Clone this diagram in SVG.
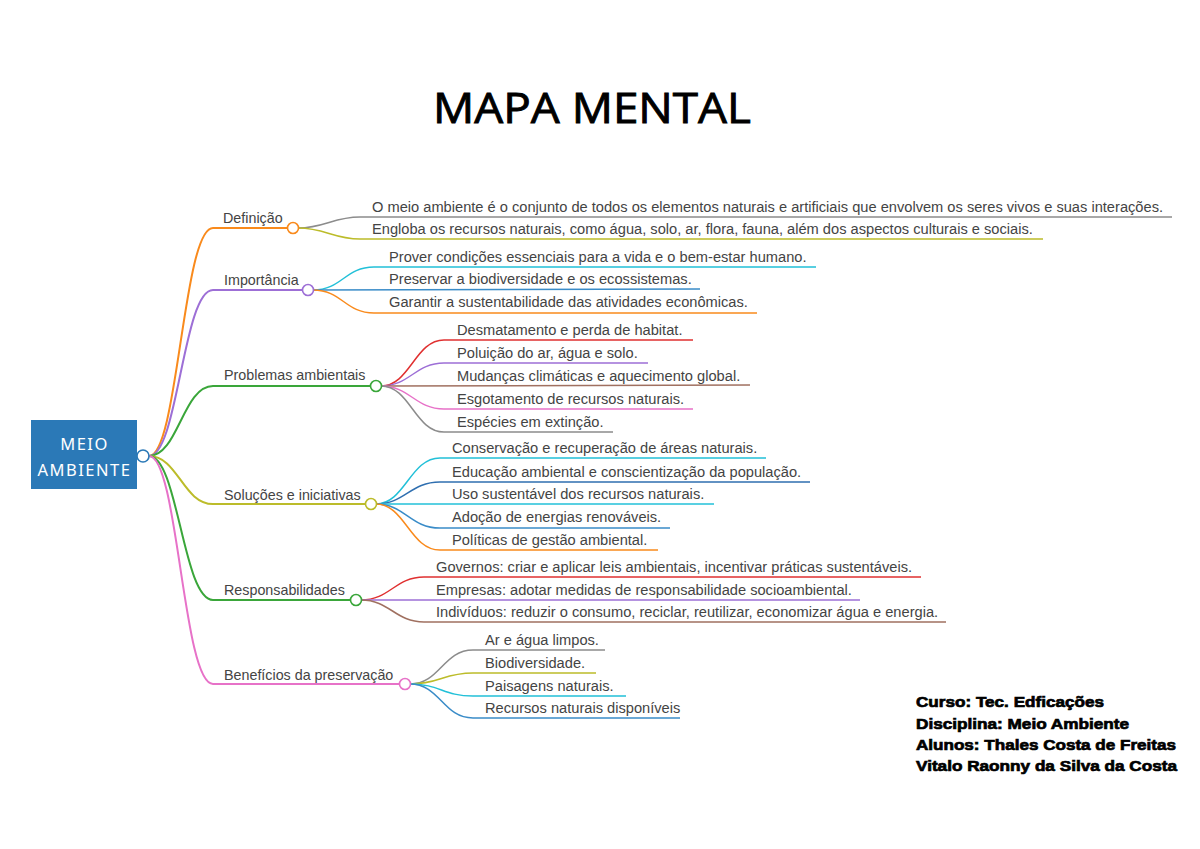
<svg xmlns="http://www.w3.org/2000/svg" width="1200" height="849" viewBox="0 0 1200 849">
<style>
.t{font-family:"Liberation Sans",Arial,sans-serif;font-size:14.65px;fill:#444}
.b{font-family:"Liberation Sans",Arial,sans-serif;font-size:14.3px;fill:#444}
.main{fill:none;stroke-width:2}
.sub{fill:none;stroke-width:1.5}
.dot{fill:#fff;stroke-width:1.6}
.info{font-family:"Liberation Sans",Arial,sans-serif;font-size:15px;font-weight:bold;fill:#000;stroke:#000;stroke-width:0.7}
</style>
<rect width="1200" height="849" fill="#fff"/>
<text x="433" y="123" font-family="'Open Sans','Noto Sans',sans-serif" font-size="42" fill="#000" stroke="#000" stroke-width="0.9" textLength="318" lengthAdjust="spacingAndGlyphs">MAPA MENTAL</text>

<g id="connectors">
  <path class="main" stroke="#f98a1c" d="M149,456 C178,456 183,228 213,228 L287,228"/>
  <path class="main" stroke="#9d6fd6" d="M149,456 C178,456 183,290 213,290 L302,290"/>
  <path class="main" stroke="#3aa63a" d="M149,456 C178,456 183,386 213,386 L370,386"/>
  <path class="main" stroke="#bcbc2a" d="M149,456 C178,456 183,504 213,504 L365,504"/>
  <path class="main" stroke="#3aa63a" d="M149,456 C178,456 183,600 213,600 L350,600"/>
  <path class="main" stroke="#e772c8" d="M149,456 C178,456 183,684 213,684 L399,684"/>

  <path class="sub" stroke="#8c8c8c" d="M298,228 C325,228 333,217 360,217 L1172,217"/>
  <path class="sub" stroke="#bcbc2a" d="M298,228 C325,228 333,239 360,239 L1043,239"/>

  <path class="sub" stroke="#22c0d8" d="M313,290 C342,290 345,267 374,267 L816,267"/>
  <path class="sub" stroke="#3a8cc8" d="M313,290 L700,289"/>
  <path class="sub" stroke="#f98a1c" d="M313,290 C342,290 345,313 374,313 L757,313"/>

  <path class="sub" stroke="#e03030" d="M381,386 C410,386 415,340 444,340 L693,340"/>
  <path class="sub" stroke="#9d6fd6" d="M381,386 C410,386 415,363 444,363 L648,363"/>
  <path class="sub" stroke="#a07060" d="M381,386 L750,385"/>
  <path class="sub" stroke="#e772c8" d="M381,386 C410,386 415,409 444,409 L693,409"/>
  <path class="sub" stroke="#8c8c8c" d="M381,386 C410,386 415,432 444,432 L613,432"/>

  <path class="sub" stroke="#22c0d8" d="M376,504 C405,504 410,458 440,458 L766,458"/>
  <path class="sub" stroke="#2f6fb0" d="M376,504 C405,504 410,482 440,482 L810,482"/>
  <path class="sub" stroke="#22c0d8" d="M376,504 L714,504"/>
  <path class="sub" stroke="#3a8cc8" d="M376,504 C405,504 410,528 440,528 L670,528"/>
  <path class="sub" stroke="#f98a1c" d="M376,504 C405,504 410,550 440,550 L658,550"/>

  <path class="sub" stroke="#e03030" d="M361,600 C390,600 395,577 424,577 L921,577"/>
  <path class="sub" stroke="#9d6fd6" d="M361,600 L860,600"/>
  <path class="sub" stroke="#a07060" d="M361,600 C390,600 395,622 424,622 L946,622"/>

  <path class="sub" stroke="#8c8c8c" d="M410,684 C440,684 443,650 473,650 L605,650"/>
  <path class="sub" stroke="#bcbc2a" d="M410,684 C440,684 443,673 473,673 L596,673"/>
  <path class="sub" stroke="#22c0d8" d="M410,684 C440,684 443,696 473,696 L626,696"/>
  <path class="sub" stroke="#3a8cc8" d="M410,684 C440,684 443,718 473,718 L680,718"/>
</g>

<g id="root">
  <rect x="31" y="420" width="106" height="69" fill="#2b79b7"/>
  <text x="84.5" y="450" text-anchor="middle" font-family="'Noto Sans','Open Sans',sans-serif" font-size="16.5" letter-spacing="1.5" fill="#fff">MEIO</text>
  <text x="84.5" y="476" text-anchor="middle" font-family="'Noto Sans','Open Sans',sans-serif" font-size="16.5" letter-spacing="1.5" fill="#fff">AMBIENTE</text>
  <circle class="dot" cx="143" cy="456" r="6" stroke="#2b79b7"/>
</g>

<g id="definicao">
  <text class="b" x="223" y="223">Definição</text>
  <circle class="dot" cx="293" cy="228" r="5.5" stroke="#f98a1c"/>
  <text class="t" x="372" y="212">O meio ambiente é o conjunto de todos os elementos naturais e artificiais que envolvem os seres vivos e suas interações.</text>
  <text class="t" x="372" y="234">Engloba os recursos naturais, como água, solo, ar, flora, fauna, além dos aspectos culturais e sociais.</text>
</g>

<g id="importancia">
  <text class="b" x="224" y="285">Importância</text>
  <circle class="dot" cx="308" cy="290" r="5.5" stroke="#9d6fd6"/>
  <text class="t" x="389" y="262">Prover condições essenciais para a vida e o bem-estar humano.</text>
  <text class="t" x="389" y="284">Preservar a biodiversidade e os ecossistemas.</text>
  <text class="t" x="389" y="307">Garantir a sustentabilidade das atividades econômicas.</text>
</g>

<g id="problemas">
  <text class="b" x="224" y="380">Problemas ambientais</text>
  <circle class="dot" cx="376" cy="386" r="5.5" stroke="#3aa63a"/>
  <text class="t" x="457" y="335">Desmatamento e perda de habitat.</text>
  <text class="t" x="457" y="358">Poluição do ar, água e solo.</text>
  <text class="t" x="457" y="381">Mudanças climáticas e aquecimento global.</text>
  <text class="t" x="457" y="404">Esgotamento de recursos naturais.</text>
  <text class="t" x="457" y="427">Espécies em extinção.</text>
</g>

<g id="solucoes">
  <text class="b" x="224" y="500">Soluções e iniciativas</text>
  <circle class="dot" cx="371" cy="504" r="5.5" stroke="#bcbc2a"/>
  <text class="t" x="452" y="453">Conservação e recuperação de áreas naturais.</text>
  <text class="t" x="452" y="477">Educação ambiental e conscientização da população.</text>
  <text class="t" x="452" y="499">Uso sustentável dos recursos naturais.</text>
  <text class="t" x="452" y="522">Adoção de energias renováveis.</text>
  <text class="t" x="452" y="545">Políticas de gestão ambiental.</text>
</g>

<g id="responsabilidades">
  <text class="b" x="224" y="595">Responsabilidades</text>
  <circle class="dot" cx="356" cy="600" r="5.5" stroke="#3aa63a"/>
  <text class="t" x="436" y="572">Governos: criar e aplicar leis ambientais, incentivar práticas sustentáveis.</text>
  <text class="t" x="436" y="595">Empresas: adotar medidas de responsabilidade socioambiental.</text>
  <text class="t" x="436" y="617">Indivíduos: reduzir o consumo, reciclar, reutilizar, economizar água e energia.</text>
</g>

<g id="beneficios">
  <text class="b" x="224" y="680">Benefícios da preservação</text>
  <circle class="dot" cx="405" cy="684" r="5.5" stroke="#e772c8"/>
  <text class="t" x="485" y="645">Ar e água limpos.</text>
  <text class="t" x="485" y="668">Biodiversidade.</text>
  <text class="t" x="485" y="691">Paisagens naturais.</text>
  <text class="t" x="485" y="713">Recursos naturais disponíveis</text>
</g>

<g id="info">
  <text class="info" x="916" y="707" textLength="188" lengthAdjust="spacingAndGlyphs">Curso: Tec. Edficações</text>
  <text class="info" x="916" y="729" textLength="213" lengthAdjust="spacingAndGlyphs">Disciplina: Meio Ambiente</text>
  <text class="info" x="916" y="750" textLength="260" lengthAdjust="spacingAndGlyphs">Alunos: Thales Costa de Freitas</text>
  <text class="info" x="916" y="771" textLength="261" lengthAdjust="spacingAndGlyphs">Vitalo Raonny da Silva da Costa</text>
</g>
</svg>
